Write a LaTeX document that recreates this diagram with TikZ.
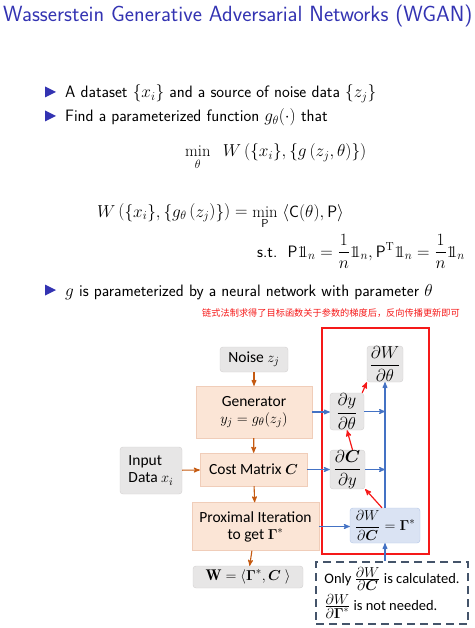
\documentclass[tikz,border=0pt]{standalone}
\usepackage{amsmath,amssymb,bm}
\usepackage{fontspec}
\newfontfamily\calfont{Carlito}
\newfontfamily\cjk{Noto Sans CJK SC}
\usetikzlibrary{arrows,positioning}
\newcommand{\onevec}{\mathrm{1\kern-0.28em 1}}
\newcommand{\notefrac}[2]{\frac{\textstyle #1}{\textstyle #2}}
\definecolor{structblue}{RGB}{51,51,178}
\definecolor{boxgray}{RGB}{231,230,230}
\definecolor{boxgrayline}{RGB}{210,208,208}
\definecolor{peach}{RGB}{251,229,214}
\definecolor{peachline}{RGB}{240,205,185}
\definecolor{lightblue}{RGB}{218,227,243}
\definecolor{lightblueline}{RGB}{180,199,231}
\definecolor{arrowbrown}{RGB}{197,90,17}
\definecolor{arrowblue}{RGB}{68,114,196}
\definecolor{slate}{RGB}{68,84,106}
\definecolor{notered}{RGB}{245,25,25}
\tikzset{
>=stealth',
  graybox/.style={
    rectangle,
    rounded corners=3pt,
    draw=boxgrayline,
    fill=boxgray,
    inner sep=1pt,
    align=center,
    font=\calfont\fontsize{15.5}{17}\selectfont},
  peachbox/.style={graybox, fill=peach, draw=peachline, rounded corners=0pt},
  bluebox/.style={graybox, fill=lightblue, draw=lightblueline},
  fracbox/.style={graybox, inner sep=0pt, font=\calfont\fontsize{16}{17}\selectfont},
  notebox/.style={rectangle, draw=slate, line width=1.6pt, dash pattern=on 8pt off 5pt,
    align=left, inner sep=1pt, font=\calfont\fontsize{14.5}{27}\selectfont},
  flow/.style={draw=arrowbrown, line width=1.1pt, ->},
  grad/.style={draw=arrowblue, line width=1.1pt, ->},
  back/.style={draw=notered, line width=1.2pt, ->},
  slidetext/.style={anchor=base west, inner sep=0pt, font=\sffamily\fontsize{16.5}{18}\selectfont},
}

\begin{document}
\begin{tikzpicture}[x=1pt, y=-1pt]
  \useasboundingbox (0,0) rectangle (474,628);
  % title and bullets
  \node[anchor=base west, inner sep=0pt, text=structblue,
    font=\sffamily\fontsize{22}{24}\selectfont] (title) at (3,22)
    {Wasserstein Generative Adversarial Networks (WGAN)};
  \foreach \y in {92,116,290}
    \fill[structblue] (45,\y-5.5) -- ++(11,5.5) -- ++(-11,5.5) -- cycle;
  \node[slidetext] (data) at (65,98)
    {A dataset $\{x_i\}$ and a source of noise data $\{z_j\}$};
  \node[slidetext] (find) at (65,122)
    {Find a parameterized function $g_\theta(\cdot)$ that};
  \node[slidetext] (obj) at (185,157)
    {$\displaystyle\min_{\theta}\;\; W\left(\{x_i\},\{g\left(z_j,\theta\right)\}\right)$};
  \node[slidetext] (ot) at (97,217)
    {$\displaystyle W\left(\{x_i\},\{g_\theta\left(z_j\right)\}\right)=\min_{\mathsf{P}}\;\langle\mathsf{C}(\theta),\mathsf{P}\rangle$};
  \node[slidetext] (st) at (257,257)
    {s.t.\ \ $\mathsf{P}\onevec_n=\dfrac{1}{n}\onevec_n,\mathsf{P}^{\mathrm{T}}\onevec_n=\dfrac{1}{n}\onevec_n$};
  \node[slidetext] (nn) at (65,296)
    {$g$ is parameterized by a neural network with parameter $\theta$};
  \node[anchor=base west, inner sep=0pt, text=notered,
    font=\cjk\fontsize{9.2}{10}\selectfont] (cn) at (202,316)
    {链式法制求得了目标函数关于参数的梯度后，反向传播更新即可};
  % forward pass
  \node[graybox, minimum width=68, minimum height=25] (noise) at (254,359.5) {Noise $z_j$};
  \node[peachbox, minimum width=116, minimum height=52] (gen) at (254,412)
    {Generator\\$y_j=g_\theta(z_j)$};
  \node[peachbox, minimum width=107, minimum height=33] (cost) at (253.5,469.5)
    {Cost Matrix $\bm{C}$};
  \node[graybox, minimum width=62, minimum height=47, align=left] (input) at (151,470.5)
    {Input\\Data $x_i$};
  \node[peachbox, minimum width=127, minimum height=48] (prox) at (255.5,526.5)
    {Proximal Iteration\\to get $\bm{\Gamma}^*$};
  \node[graybox, minimum width=110, minimum height=22] (wval) at (248,577)
    {$\mathbf{W}=\langle\bm{\Gamma}^*,\bm{C}\;\rangle$};
  % gradients
  \draw[notered, line width=1.1pt] (322,328) rectangle (429,554);
  \node[fracbox, minimum width=34, minimum height=37] (dydt) at (347,411.5)
    {$\dfrac{\partial y}{\partial\theta}$};
  \node[fracbox, minimum width=35, minimum height=37] (dcdy) at (347.5,469.5)
    {$\dfrac{\partial\bm{C}}{\partial y}$};
  \node[fracbox, minimum width=36, minimum height=36] (dwdt) at (385,364)
    {$\dfrac{\partial W}{\partial\theta}$};
  \node[bluebox, minimum width=70, minimum height=35] (dwdc) at (385,525.5)
    {$\dfrac{\partial W}{\partial\bm{C}}=\bm{\Gamma}^*$};
  \node[notebox, minimum width=152, minimum height=62] (note) at (392,593)
    {Only $\notefrac{\partial W}{\partial \bm{C}}$ is calculated.\\$\notefrac{\partial W}{\partial\bm{\Gamma}^*}$ is not needed.};
  % connectors
  \draw[flow] (noise) -- (gen);
  \draw[flow] (gen) -- (cost);
  \draw[flow] (input) -- (cost);
  \draw[flow] (cost) -- (prox);
  \draw[flow] (prox) -- (wval);
  \draw[grad] (gen.east) -- (gen.east -| dydt.west);
  \draw[grad] (cost.east) -- (cost.east -| dcdy.west);
  \draw[grad] (prox.east) -- (prox.east -| dwdc.west);
  \draw[grad] (dwdc.north) -- (dwdt.south);
  \draw[grad] (dydt.east) -- (dydt.east -| dwdc.north);
  \draw[grad] (dcdy.east) -- (dcdy.east -| dwdc.north);
  \draw[grad] (dwdc.south |- note.north) -- (dwdc.south);
  \draw[back] ([xshift=-3pt]dwdc.north) -- (dcdy.south east);
  \draw[back] ([xshift=5pt]dcdy.north) -- (dydt.south);
  \draw[back] ([xshift=-2pt]dydt.north east) -- (dwdt.south west);
\end{tikzpicture}
\end{document}
